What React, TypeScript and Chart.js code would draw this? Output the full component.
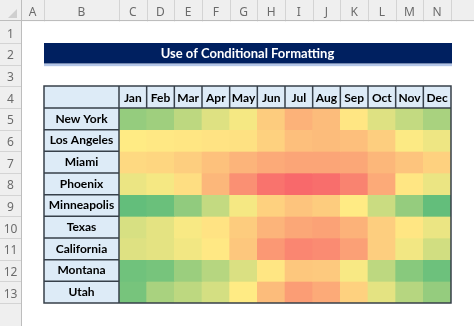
import React, { useEffect, useRef } from "react";
import { Chart, registerables } from "chart.js";

Chart.register(...registerables);

const TITLE = "Use of Conditional Formatting";
const MONTHS = ["Jan", "Feb", "Mar", "Apr", "May", "Jun", "Jul", "Aug", "Sep", "Oct", "Nov", "Dec"];
const CITIES = ["New York", "Los Angeles", "Miami", "Phoenix", "Minneapolis", "Texas", "California", "Montana", "Utah"];

const NEW_YORK = [18, 21, 30, 40, 47, 62, 72, 68, 52, 40, 32, 24];
const LOS_ANGELES = [50, 51, 52, 53, 54, 60, 67, 68, 67, 61, 49, 45];
const MIAMI = [57, 58, 61, 66, 71, 75, 77, 77, 76, 70, 65, 60];
const PHOENIX = [44, 47, 55, 70, 85, 96, 100, 98, 90, 75, 52, 44];
const MINNEAPOLIS = [3, 5, 17, 32, 47, 60, 65, 62, 50, 34, 18, 3];
const TEXAS = [38, 42, 48, 53, 62, 71, 76, 78, 72, 61, 52, 44];
const CALIFORNIA = [40, 42, 46, 51, 64, 82, 89, 87, 79, 61, 46, 36];
const MONTANA = [7, 9, 20, 28, 39, 52, 64, 63, 48, 30, 14, 6];
const UTAH = [9, 24, 30, 37, 50, 68, 80, 75, 60, 42, 28, 18];

const VALUES = [NEW_YORK, LOS_ANGELES, MIAMI, PHOENIX, MINNEAPOLIS, TEXAS, CALIFORNIA, MONTANA, UTAH];

const COLUMN_LETTERS = ["A", "B", "C", "D", "E", "F", "G", "H", "I", "J", "K", "L", "M", "N"];
const ROW_NUMBERS = [1, 2, 3, 4, 5, 6, 7, 8, 9, 10, 11, 12, 13];

const SCALE_MID = 50;
const LOW_RGB = [99, 190, 123];
const MID_RGB = [255, 235, 132];
const HIGH_RGB = [248, 105, 107];

const ALL = VALUES.flat();
const SCALE_MIN = Math.min(...ALL);
const SCALE_MAX = Math.max(...ALL);

function mix(a: number[], b: number[], f: number) {
  const c = a.map((v, i) => Math.round(v + (b[i] - v) * f));
  return `rgb(${c[0]},${c[1]},${c[2]})`;
}
function colorFor(v: number) {
  if (v <= SCALE_MID) return mix(LOW_RGB, MID_RGB, (v - SCALE_MIN) / (SCALE_MID - SCALE_MIN));
  return mix(MID_RGB, HIGH_RGB, (v - SCALE_MID) / (SCALE_MAX - SCALE_MID));
}

const LABEL_FONT = { family: "Lato", size: 12, weight: "bold" as const };
const TABLE_LEFT = 44;
const ROW_HEAD_W = 21;
const CITY_COL_W = 75;
const HEAD_ROW_H = 22;

const sheetPlugin = {
  id: "sheet",
  beforeDraw(chart: any) {
    const ctx = chart.ctx as CanvasRenderingContext2D;
    const { width, height } = chart;
    const a = chart.chartArea;
    const colW = (a.right - a.left) / MONTHS.length;
    const rowH = (a.bottom - a.top) / CITIES.length;
    const rowStart = a.top - 4 * rowH;
    ctx.save();
    ctx.fillStyle = "#ffffff";
    ctx.fillRect(0, 0, width, height);

    // Excel headers
    ctx.fillStyle = "#efefef";
    ctx.fillRect(0, 0, width, rowStart);
    ctx.fillRect(0, 0, ROW_HEAD_W, height);
    const colEdges = [ROW_HEAD_W, TABLE_LEFT, a.left];
    for (let k = 1; k <= MONTHS.length; k++) colEdges.push(a.left + k * colW);
    colEdges.push(a.right + colW);
    ctx.strokeStyle = "#d4d4d4";
    ctx.lineWidth = 1;
    colEdges.forEach((x) => {
      ctx.beginPath();
      ctx.moveTo(Math.round(x) + 0.5, 0);
      ctx.lineTo(Math.round(x) + 0.5, rowStart);
      ctx.stroke();
    });
    ROW_NUMBERS.forEach((_, i) => {
      const y = rowStart + (i + 1) * rowH;
      ctx.beginPath();
      ctx.moveTo(0, Math.round(y) + 0.5);
      ctx.lineTo(ROW_HEAD_W, Math.round(y) + 0.5);
      ctx.stroke();
    });
    ctx.strokeStyle = "#bdbdbd";
    ctx.beginPath();
    ctx.moveTo(0, Math.round(rowStart) - 0.5);
    ctx.lineTo(width, Math.round(rowStart) - 0.5);
    ctx.moveTo(ROW_HEAD_W + 0.5, 0);
    ctx.lineTo(ROW_HEAD_W + 0.5, height);
    ctx.stroke();
    // corner triangle
    ctx.fillStyle = "#cfcfcf";
    ctx.beginPath();
    ctx.moveTo(17, 9);
    ctx.lineTo(17, 18);
    ctx.lineTo(8, 18);
    ctx.closePath();
    ctx.fill();

    ctx.fillStyle = "#6b6b6b";
    ctx.font = '12px "Noto Sans"';
    ctx.textAlign = "center";
    ctx.textBaseline = "middle";
    COLUMN_LETTERS.forEach((l, i) => {
      const cx = (colEdges[i] + colEdges[i + 1]) / 2;
      ctx.fillText(l, cx, rowStart / 2 + 1.5);
    });
    ROW_NUMBERS.forEach((n, i) => {
      const cy = rowStart + (i + 0.5) * rowH + 2;
      ctx.fillText(String(n), ROW_HEAD_W / 2, cy);
    });

    // title bar
    const tTop = rowStart + rowH;
    ctx.fillStyle = "#002060";
    ctx.fillRect(TABLE_LEFT, tTop, a.right - TABLE_LEFT + 1, rowH - 1);
    ctx.fillStyle = "#b4c6e7";
    ctx.fillRect(TABLE_LEFT, tTop + rowH - 1, a.right - TABLE_LEFT + 1, 2.5);
    ctx.fillStyle = "#ffffff";
    ctx.font = "bold 13px Lato";
    ctx.fillText(TITLE, (TABLE_LEFT + a.right) / 2, tTop + rowH / 2);

    // header cells background
    ctx.fillStyle = "#ddebf7";
    ctx.fillRect(TABLE_LEFT, a.top - HEAD_ROW_H, a.right - TABLE_LEFT, HEAD_ROW_H);
    ctx.fillRect(TABLE_LEFT, a.top, a.left - TABLE_LEFT, a.bottom - a.top);
    ctx.restore();
  },
  afterDraw(chart: any) {
    const ctx = chart.ctx as CanvasRenderingContext2D;
    const a = chart.chartArea;
    const colW = (a.right - a.left) / MONTHS.length;
    const rowH = (a.bottom - a.top) / CITIES.length;
    const top = a.top - HEAD_ROW_H;
    ctx.save();
    ctx.strokeStyle = "#37404a";
    ctx.lineWidth = 1.5;
    ctx.beginPath();
    for (let k = 1; k < MONTHS.length; k++) {
      const x = a.left + k * colW;
      ctx.moveTo(x, top);
      ctx.lineTo(x, a.top);
    }
    for (let i = 1; i < CITIES.length; i++) {
      const y = a.top + i * rowH;
      ctx.moveTo(TABLE_LEFT, y);
      ctx.lineTo(a.left, y);
    }
    ctx.moveTo(TABLE_LEFT, a.top);
    ctx.lineTo(a.right, a.top);
    ctx.moveTo(a.left, top);
    ctx.lineTo(a.left, a.bottom);
    ctx.rect(TABLE_LEFT, top, a.right - TABLE_LEFT, a.bottom - top);
    ctx.stroke();
    ctx.restore();
  },
};

export default function App() {
  const ref = useRef<HTMLCanvasElement>(null);
  useEffect(() => {
    const canvas = ref.current!;
    const m = document.createElement("canvas").getContext("2d")!;
    m.font = `bold ${LABEL_FONT.size}px ${LABEL_FONT.family}`;
    const widest = Math.max(...CITIES.map((c) => m.measureText(c).width));
    const cityPad = CITY_COL_W / 2 - widest / 2;

    const chart = new Chart(canvas, {
      type: "bar",
      data: {
        labels: MONTHS,
        datasets: CITIES.map((city, i) => ({
          label: city,
          data: MONTHS.map(() => [i, i + 1] as [number, number]),
          backgroundColor: VALUES[i].map((v) => colorFor(v)),
          borderWidth: 0,
          borderSkipped: false,
          grouped: false,
          barPercentage: 1,
          categoryPercentage: 1,
        })) as any,
      },
      options: {
        animation: false,
        responsive: false,
        devicePixelRatio: 1,
        events: [],
        layout: { padding: { left: TABLE_LEFT, top: 86, right: 23, bottom: 23 } },
        plugins: { legend: { display: false }, tooltip: { enabled: false }, title: { display: false } },
        scales: {
          x: {
            type: "category",
            position: "top",
            grid: { display: false, drawTicks: false },
            border: { display: false },
            ticks: { font: LABEL_FONT, color: "#000", padding: 3, autoSkip: false, maxRotation: 0 },
            afterFit: (s: any) => {
              s.height = HEAD_ROW_H;
            },
          },
          y: {
            type: "linear",
            display: false,
            min: 0,
            max: CITIES.length,
            reverse: true,
          },
          y2: {
            type: "category",
            labels: CITIES,
            offset: true,
            position: "left",
            grid: { display: false, drawTicks: false },
            border: { display: false },
            ticks: { font: LABEL_FONT, color: "#000", crossAlign: "center", padding: cityPad, autoSkip: false },
            afterFit: (s: any) => {
              s.width = CITY_COL_W;
            },
          },
        },
      } as any,
      plugins: [sheetPlugin],
    });
    return () => chart.destroy();
  }, []);
  return (
    <div style={{ position: "fixed", left: 0, top: 0, width: 474, height: 326 }}>
      <canvas ref={ref} width={474} height={326} style={{ width: 474, height: 326 }} />
    </div>
  );
}
